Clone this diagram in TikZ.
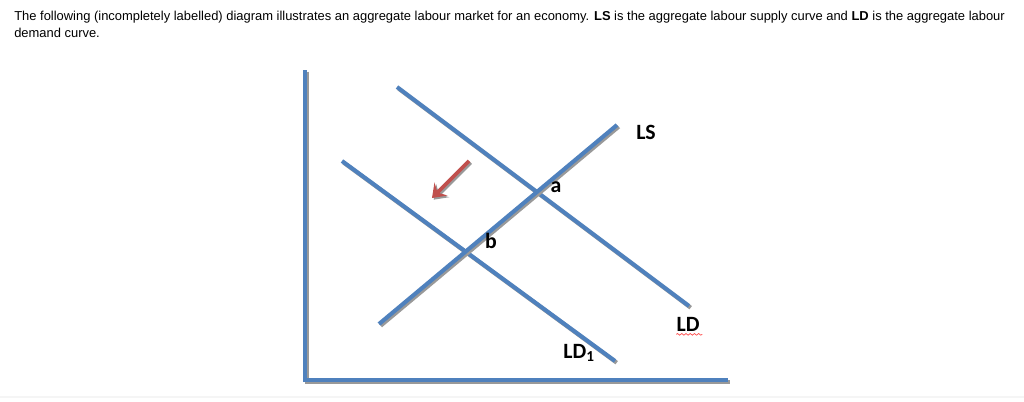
\documentclass[tikz,border=0pt]{standalone}
\usepackage{fontspec}
\setmainfont{Liberation Sans}
\newfontfamily\calibri{Carlito}
\usepackage{tikz}
\usetikzlibrary{arrows.meta,decorations.pathmorphing}
\definecolor{curveblue}{HTML}{4F81BD}
\definecolor{shiftred}{HTML}{C0504D}
\definecolor{shadowgray}{HTML}{999999}
\tikzstyle{curve}=[draw=curveblue, line width=2.9pt, preaction={draw=shadowgray, line width=2.9pt, transform canvas={xshift=1.2pt, yshift=-1.2pt}}]
\tikzstyle{shiftarrow}=[draw=shiftred, line width=2.6pt, -{Stealth[length=9pt, width=13pt, inset=3.5pt]}, preaction={draw=shadowgray, line width=2.6pt, -{Stealth[length=9pt, width=13pt, inset=3.5pt]}, transform canvas={xshift=1.2pt, yshift=-1.2pt}}]
\tikzstyle{curvelabel}=[font=\calibri\bfseries\fontsize{15.5}{18}\selectfont, inner sep=0pt]

\begin{document}
\begin{tikzpicture}[x=0.025cm, y=-0.025cm]
			\useasboundingbox[fill=white] (0,0) rectangle (1024,401);
			\draw[gray!8, line width=1pt] (0,397) -- (1024,397);
			\node[anchor=north west, align=left, inner sep=0pt, font=\fontsize{9.2}{12.2}\selectfont] (caption) at (14,11) {The following (incompletely labelled) diagram illustrates an aggregate labour market for an economy. \textbf{LS} is the aggregate labour supply curve and \textbf{LD} is the aggregate labour\\demand curve.};
			\coordinate (ytop) at (305,70);
			\coordinate (origin) at (305,380);
			\coordinate (xend) at (728,380);
			\coordinate (ld-top) at (397,87);
			\coordinate (ld-bot) at (689,306);
			\coordinate (ldone-top) at (342,161);
			\coordinate (ldone-bot) at (615,361);
			\coordinate (ls-bot) at (379,324);
			\coordinate (ls-top) at (617,125);
			\coordinate (arr-tail) at (469,161);
			\coordinate (arr-head) at (432,198);
			\draw[curve] (ytop) -- (origin) -- (xend);
			\draw[curve] (ld-top) -- (ld-bot);
			\draw[curve] (ldone-top) -- (ldone-bot);
			\draw[curve] (ls-bot) -- (ls-top);
			\draw[shiftarrow] (arr-tail) -- (arr-head);
			\node[curvelabel] (lslabel) at (646,132) {LS};
			\node[curvelabel] (alabel) at (556,187) {a};
			\node[curvelabel] (blabel) at (491,241) {b};
			\node[curvelabel] (ldlabel) at (688,324) {LD};
			\node[curvelabel] (ldonelabel) at (579,353) {LD\textsubscript{1}};
			\draw[red!70, line width=0.5pt, decorate, decoration={snake, amplitude=0.6pt, segment length=3pt}] (ldlabel.south west) ++(0,3) -- ++(26,0);
		\end{tikzpicture}
\end{document}
